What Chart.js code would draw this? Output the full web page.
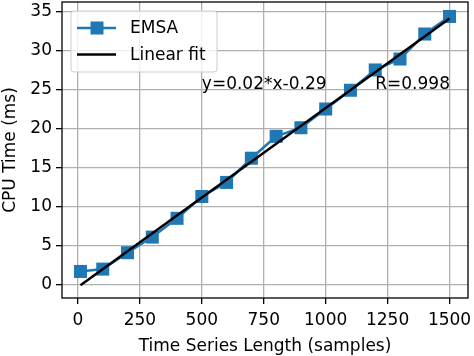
<!DOCTYPE html>
<html><head><meta charset="utf-8">
<script src="https://cdn.jsdelivr.net/npm/chart.js@4/dist/chart.umd.min.js"></script>
<style>html,body{margin:0;padding:0;background:#fff;}</style>
</head><body>
<canvas id="c" width="474" height="356" style="width:474px;height:356px;display:block"></canvas>
<script>
// ---- data ----
const seriesLengths = [10, 100, 200, 300, 400, 500, 600, 700, 800, 900, 1000, 1100, 1200, 1300, 1400, 1500];
const cpuTimes = [1.7, 2.0, 4.1, 6.1, 8.5, 11.3, 13.1, 16.2, 19.0, 20.1, 22.5, 24.9, 27.5, 28.9, 32.1, 34.35];
const fitLengths = [10, 1500];
const fitTimes = [-0.06, 34.1];
const xTickValues = [0, 250, 500, 750, 1000, 1250, 1500];
const yTickValues = [0, 5, 10, 15, 20, 25, 30, 35];
const noteTexts = ['y=0.02*x-0.29', 'R=0.998'];
const noteX = [500, 1200];
const noteY = [25, 25];
const seriesLabels = ['EMSA', 'Linear fit'];

const FONT = 'DejaVu Sans';
const FS = 17;
const font = {family: FONT, size: FS};
const BLUE = '#1f77b4';

const framePlugin = {
  id: 'frame',
  afterDatasetsDraw(chart) {
    const {ctx, chartArea: a, scales} = chart;
    ctx.save();
    ctx.strokeStyle = '#000';
    ctx.lineWidth = 1.3;
    ctx.strokeRect(a.left, a.top, a.right - a.left, a.bottom - a.top);
    ctx.fillStyle = '#000';
    ctx.font = FS + 'px "' + FONT + '"';
    ctx.textAlign = 'left';
    ctx.textBaseline = 'alphabetic';
    noteTexts.forEach((t, i) => {
      ctx.fillText(t, scales.x.getPixelForValue(noteX[i]), scales.y.getPixelForValue(noteY[i]));
    });
    ctx.restore();
  },
  afterDraw(chart) {
    const {ctx, chartArea: a} = chart;
    const ds = chart.data.datasets;
    ctx.save();
    const bx = a.left + 9, by = a.top + 9, bw = 146, bh = 61;
    ctx.beginPath();
    if (ctx.roundRect) ctx.roundRect(bx, by, bw, bh, 3); else ctx.rect(bx, by, bw, bh);
    ctx.fillStyle = 'rgba(255,255,255,0.8)';
    ctx.fill();
    ctx.strokeStyle = '#cccccc';
    ctx.lineWidth = 1;
    ctx.stroke();
    ds.forEach((d, i) => {
      const cy = by + 17 + i * 26.5;
      ctx.beginPath();
      ctx.strokeStyle = d.borderColor;
      ctx.lineWidth = d.borderWidth;
      ctx.moveTo(bx + 6, cy);
      ctx.lineTo(bx + 45, cy);
      ctx.stroke();
      if (d.pointRadius > 0) {
        ctx.fillStyle = d.pointBackgroundColor;
        ctx.fillRect(bx + 26 - 6.5, cy - 6.5, 13, 13);
      }
      ctx.fillStyle = '#000';
      ctx.font = FS + 'px "' + FONT + '"';
      ctx.textBaseline = 'middle';
      ctx.textAlign = 'left';
      ctx.fillText(d.label, bx + 59, cy + 1);
    });
    ctx.restore();
  }
};

function noPad(s) {
  s.paddingLeft = 0; s.paddingRight = 0; s.paddingTop = 0; s.paddingBottom = 0;
}

new Chart(document.getElementById('c'), {
  type: 'line',
  data: {
    datasets: [
      {
        label: seriesLabels[0],
        data: seriesLengths.map((x, i) => ({x, y: cpuTimes[i]})),
        borderColor: BLUE, backgroundColor: BLUE,
        borderWidth: 2.5,
        pointStyle: 'rect', pointRadius: 9.2, pointHoverRadius: 9.2,
        pointBackgroundColor: BLUE, pointBorderColor: BLUE, pointBorderWidth: 0,
        tension: 0, order: 2
      },
      {
        label: seriesLabels[1],
        data: fitLengths.map((x, i) => ({x, y: fitTimes[i]})),
        borderColor: '#000', backgroundColor: '#000',
        borderWidth: 2.5, pointRadius: 0, pointHoverRadius: 0, tension: 0, order: 1
      }
    ]
  },
  options: {
    responsive: false,
    animation: false,
    devicePixelRatio: 1,
    events: [],
    layout: {autoPadding: false, padding: {left: 0, right: 6, top: 2, bottom: 0}},
    plugins: {legend: {display: false}, tooltip: {enabled: false}},
    scales: {
      x: {
        type: 'linear', min: -64.5, max: 1574.5,
        afterBuildTicks: s => { s.ticks = xTickValues.map(v => ({value: v})); },
        grid: {color: '#b0b0b0', lineWidth: 1.3, tickLength: 6, tickColor: '#000', tickWidth: 1.3},
        border: {display: false},
        ticks: {font, color: '#000', padding: 6, maxRotation: 0, autoSkip: false, callback: v => String(v)},
        title: {display: true, text: 'Time Series Length (samples)', font: {family: FONT, size: FS, lineHeight: 1.0}, color: '#000', padding: {top: 0, bottom: 1}},
        afterFit: s => { s.height = 58; noPad(s); }
      },
      y: {
        type: 'linear', min: -1.7, max: 36.2,
        afterBuildTicks: s => { s.ticks = yTickValues.map(v => ({value: v})); },
        grid: {color: '#b0b0b0', lineWidth: 1.3, tickLength: 6, tickColor: '#000', tickWidth: 1.3},
        border: {display: false},
        ticks: {font, color: '#000', padding: 4, autoSkip: false, callback: v => String(v)},
        title: {display: true, text: 'CPU Time (ms)', font, color: '#000', padding: {top: 0, bottom: 0}},
        afterFit: s => { s.width = 62; noPad(s); }
      }
    }
  },
  plugins: [framePlugin]
});
</script>
</body></html>
